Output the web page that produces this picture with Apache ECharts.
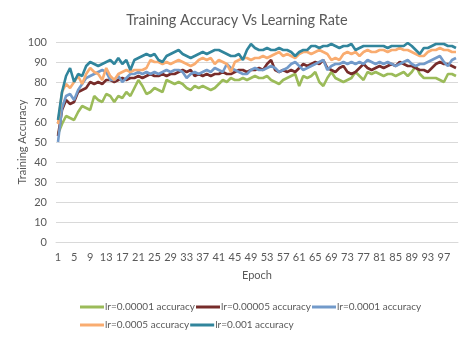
<!DOCTYPE html>
<html><head><meta charset="utf-8">
<script src="https://cdn.jsdelivr.net/npm/echarts@6/dist/echarts.min.js"></script>
<style>html,body{margin:0;padding:0;background:#fff}#c{width:474px;height:337px}</style>
</head><body><div id="c"></div>
<script>
const epochs = Array.from({length: 100}, (_, i) => String(i + 1));
const seriesNames = ["lr=0.00001 accuracy", "lr=0.00005 accuracy", "lr=0.0001 accuracy", "lr=0.0005 accuracy", "lr=0.001 accuracy"];
const lr00001 = [54,59,63,62,61,65,68,67,66,73, 71,70,74,73,70,73,72,75,73,77, 81,78,74,75,77,76,75,81,80,79,
  80,79,77,76,78,77,78,77,76,77, 79,81,80,82,81,81,82,81,82,83, 82,82,83,81,80,79,81,82,83,84,
  78,83,82,83,85,80,78,82,85,82, 81,80,81,82,85,83,81,85,84,85, 84,83,84,84,83,84,85,83,85,88,
  84,82,82,82,82,81,80,84,84,83];
const lr00005 = [53,66,71,69,70,75,76,77,80,79, 80,79,81,81,80,81,82,81,82,82, 83,82,83,84,83,83,84,83,84,84,
  85,86,85,86,83,84,83,84,83,84, 84,85,84,84,85,86,86,85,86,86, 87,86,89,91,86,85,86,85,86,85,
  87,89,88,89,90,89,91,87,86,85, 87,88,85,84,85,87,89,87,86,87, 88,87,88,89,88,90,89,88,88,87,
  86,86,85,87,89,90,89,89,88,87];
const lr0001 = [50,67,73,74,71,76,79,82,83,84, 85,86,85,81,81,83,80,82,84,84, 85,84,85,84,85,84,85,86,85,86,
  86,85,82,84,85,84,85,86,85,87, 86,85,89,87,86,85,84,84,86,87, 86,86,87,88,87,85,86,87,89,90,
  88,86,87,88,89,90,91,86,88,89, 89,90,89,90,89,90,89,91,90,89, 90,89,90,89,88,89,90,91,89,88,
  89,89,90,91,92,93,90,88,91,92];
const lr0005 = [59,75,79,77,80,83,79,84,87,85, 84,81,87,83,81,84,85,86,85,86, 86,86,87,91,90,90,89,90,89,90,
  91,90,89,88,89,91,92,91,92,89, 91,90,89,85,90,91,92,92,91,92, 92,93,92,93,94,95,93,94,93,92,
  94,95,95,94,95,96,95,94,91,92, 91,94,95,94,95,93,95,96,95,95, 96,96,95,96,96,97,96,96,95,94,
  93,93,95,96,96,97,96,96,95,95];
const lr001 = [61,75,83,87,80,84,83,88,90,89, 88,89,90,91,89,92,89,91,86,91, 92,93,94,93,94,91,90,93,94,95,
  96,94,93,92,93,94,95,94,95,96, 96,95,94,93,93,94,91,96,99,97, 96,96,97,96,96,97,96,96,95,93,
  95,96,96,98,98,97,98,98,99,98, 97,98,98,99,96,97,98,98,98,98, 98,98,97,98,98,98,98,99.5,98,96,
  94,97,97,98,99,99,99,98,98,97];
const yTicks = {min: 0, max: 100, interval: 10};
const colors = ["#9BBB59", "#772C2A", "#729ACA", "#F9AC70", "#31859C"];
const allData = [lr00001, lr00005, lr0001, lr0005, lr001];

const font = "Lato, 'Open Sans', sans-serif";
const txt = "#595959";
const chart = echarts.init(document.getElementById('c'));
const legCommon = {itemWidth: 24, itemHeight: 3, itemGap: 1, icon: 'rect',
  textStyle: {fontFamily: font, fontSize: 10, color: txt, padding: [0,0,0,-4]}};
chart.setOption({
  animation: false,
  color: colors,
  title: {text: "Training Accuracy Vs Learning Rate", left: 'center', top: 8,
    textStyle: {fontFamily: font, fontSize: 14.5, fontWeight: 'normal', color: txt}},
  legend: [
    Object.assign({data: seriesNames.slice(0, 3), left: 75, top: 297}, legCommon),
    Object.assign({data: seriesNames.slice(3), left: 75, top: 315}, legCommon)
  ],
  grid: {left: 56, right: 16, top: 42, bottom: 95},
  xAxis: {type: 'category', data: epochs, boundaryGap: true,
    name: 'Epoch', nameLocation: 'middle', nameGap: 28, nameMoveOverlap: false,
    nameTextStyle: {fontFamily: font, fontSize: 11, color: txt},
    axisLine: {lineStyle: {color: '#D9D9D9'}}, axisTick: {show: false},
    axisLabel: {interval: 3, fontFamily: font, fontSize: 11, color: txt, margin: 10}},
  yAxis: {type: 'value', min: yTicks.min, max: yTicks.max, interval: yTicks.interval,
    name: 'Training Accuracy', nameLocation: 'middle', nameGap: 28, nameMoveOverlap: false,
    nameTextStyle: {fontFamily: font, fontSize: 11, color: txt},
    axisLine: {show: false}, axisTick: {show: false},
    splitLine: {lineStyle: {color: '#D9D9D9'}},
    axisLabel: {fontFamily: font, fontSize: 11, color: txt, margin: 9}},
  series: seriesNames.map((n, i) => ({
    name: n, type: 'line', data: allData[i], symbol: 'none', smooth: false,
    lineStyle: {width: 2.6, color: colors[i]}, itemStyle: {color: colors[i]}
  }))
});
</script></body></html>
